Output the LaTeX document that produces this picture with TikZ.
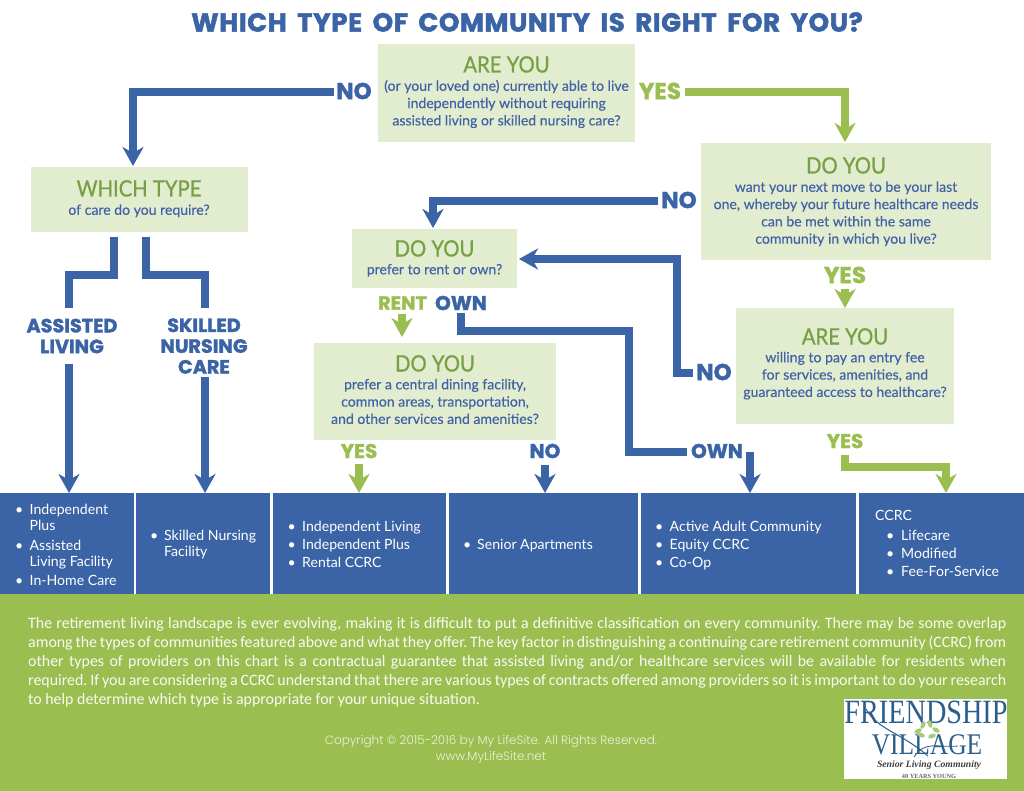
\documentclass[tikz,border=0pt]{standalone}
\usepackage{fontspec}
\usetikzlibrary{arrows.meta,calc}
\setmainfont{Lato}
\newfontfamily\bodyf{Lato}[FakeBold=0.25]
\newfontfamily\headf{Lato}[FakeBold=0.7,FakeStretch=0.9]
\newfontfamily\heavy{Poppins}[BoldFont={Poppins Bold},BoldFeatures={FakeBold=1.6}]
\newfontfamily\titlef{Poppins}[BoldFont={Poppins Bold},BoldFeatures={FakeBold=2,LetterSpace=2.5,WordSpace=1.7}]
\newfontfamily\parf{Carlito}
\newfontfamily\copyf{Poppins Light}
\newfontfamily\logof{Liberation Serif}[FakeStretch=0.83]
\newfontfamily\logov{Liberation Serif}[FakeStretch=0.85]
\newfontfamily\logog{Liberation Serif}
\definecolor{fvblue}{HTML}{3B64A6}
\definecolor{fvgreen}{HTML}{9BBE50}
\definecolor{fvpale}{HTML}{E2ECCF}
\definecolor{fvhead}{HTML}{76A044}
\definecolor{fvtext}{HTML}{4262A6}
\definecolor{fvlogo}{HTML}{2A5F8C}
\definecolor{fvleaf}{HTML}{A6C97C}
\newcommand{\qh}[1]{{\headf\fontsize{22.5}{26}\selectfont\color{fvhead}#1}}
\newcommand{\rowb}[2]{\makebox[#1pt][l]{\textbullet}#2}
\newcommand{\pline}[1]{\hbox to 978pt{\spaceskip=.2em plus 1em minus .05em #1}}
\tikzset{
  x=1pt,y=-1pt,
  qbox/.style={fill=fvpale,draw=none,inner sep=0pt,anchor=north west},
  qtext/.style={anchor=north,align=center,inner sep=0pt,text=fvtext,font=\bodyf\fontsize{14.05}{17.3}\selectfont},
  rbox/.style={fill=fvblue,draw=none,inner sep=0pt,anchor=north west},
  rtext/.style={anchor=north west,align=left,inner sep=0pt,text=white,font=\fontsize{14.1}{16}\selectfont},
  lab/.style={inner sep=0pt,align=center,font=\heavy\bfseries\fontsize{20}{20.8}\selectfont},
  labbig/.style={font=\heavy\bfseries\fontsize{23}{24}\selectfont},
  labmid/.style={font=\heavy\bfseries\fontsize{19.2}{20.8}\selectfont},
  labb/.style={lab,text=fvblue},
  labg/.style={lab,text=fvgreen},
  arr/.style={line width=8pt,line join=miter,-{Stealth[length=19pt,width=21pt,inset=6pt]}},
  lin/.style={line width=8pt,line join=miter},
  barr/.style={arr,draw=fvblue},
  garr/.style={arr,draw=fvgreen},
  blin/.style={lin,draw=fvblue},
}
\begin{document}
\begin{tikzpicture}
\useasboundingbox (0,0) rectangle (1024,791);
\fill[white] (0,0) rectangle (1024,791);
\node[anchor=center,inner sep=0pt,text=fvblue,font=\titlef\bfseries\fontsize{26}{30}\selectfont] (title) at (527,22) {WHICH TYPE OF COMMUNITY IS RIGHT FOR YOU?};

% footer
\node[fill=fvgreen,inner sep=0pt,anchor=north west,minimum width=1024pt,minimum height=197pt] (footer) at (0,594) {};

% question boxes
\node[qbox,minimum width=257pt,minimum height=98pt] (q1) at (378,44) {};
\node[qbox,minimum width=217pt,minimum height=65pt] (q2) at (31,167) {};
\node[qbox,minimum width=290pt,minimum height=117pt] (q3) at (701,143) {};
\node[qbox,minimum width=165pt,minimum height=59pt] (q4) at (352,229) {};
\node[qbox,minimum width=242pt,minimum height=97pt] (q5) at (314,343) {};
\node[qbox,minimum width=218pt,minimum height=116pt] (q6) at (736,308) {};

\node[qtext] (q1t) at (506.5,56) {\qh{ARE YOU}\\[1pt](or your loved one) currently able to live\\independently without requiring\\assisted living or skilled nursing care?};
\node[qtext] (q2t) at (139,180) {\qh{WHICH TYPE}\\[1pt]of care do you require?};
\node[qtext] (q3t) at (846,157) {\qh{DO YOU}\\[1pt]want your next move to be your last\\one, whereby your future healthcare needs\\can be met within the same\\community in which you live?};
\node[qtext] (q4t) at (434.5,240) {\qh{DO YOU}\\[0.5pt]prefer to rent or own?};
\node[qtext] (q5t) at (435,355) {\qh{DO YOU}\\[0.5pt]prefer a central dining facility,\\common areas, transportation,\\and other services and amenities?};
\node[qtext] (q6t) at (845,328) {\qh{ARE YOU}\\[0.5pt]willing to pay an entry fee\\for services, amenities, and\\guaranteed access to healthcare?};

% result boxes
\node[rbox,minimum width=133.5pt,minimum height=101pt] (r1) at (0,493) {};
\node[rbox,minimum width=134pt,minimum height=101pt] (r2) at (136,493) {};
\node[rbox,minimum width=173.5pt,minimum height=101pt] (r3) at (272.5,493) {};
\node[rbox,minimum width=189pt,minimum height=101pt] (r4) at (449,493) {};
\node[rbox,minimum width=215.5pt,minimum height=101pt] (r5) at (640.5,493) {};
\node[rbox,minimum width=165.5pt,minimum height=101pt] (r6) at (858.5,493) {};

\node[rtext] (r1t) at (15,504) {\rowb{14.5}{Independent}\\\hspace*{14.5pt}Plus\\[3.5pt]\rowb{14.5}{Assisted}\\\hspace*{14.5pt}Living Facility\\[3.5pt]\rowb{14.5}{In-Home Care}};
\node[rtext] (r2t) at (150,530) {\rowb{14}{Skilled Nursing}\\\hspace*{14pt}Facility};
\node[rtext] (r3t) at (287.5,521) {\rowb{14.5}{Independent Living}\\[2pt]\rowb{14.5}{Independent Plus}\\[2pt]\rowb{14.5}{Rental CCRC}};
\node[rtext] (r4t) at (463,539.5) {\rowb{14}{Senior Apartments}};
\node[rtext] (r5t) at (655,521) {\rowb{14.5}{Active Adult Community}\\[2pt]\rowb{14.5}{Equity CCRC}\\[2pt]\rowb{14.5}{Co-Op}};
\node[rtext] (r6t) at (875,510.5) {CCRC\\[3.5pt]\hspace*{11pt}\rowb{15}{Lifecare}\\[2pt]\hspace*{11pt}\rowb{15}{Modified}\\[2pt]\hspace*{11pt}\rowb{15}{Fee-For-Service}};

% labels
\node[labb,labbig] (noA) at (354,91) {NO};
\node[labg,labbig] (yesA) at (660,91) {YES};
\node[labb,labbig] (noB) at (679,200) {NO};
\node[labg,labbig] (yesB) at (845,275) {YES};
\node[labg,labmid] (rent) at (402.5,303) {RENT};
\node[labb] (own) at (461,303) {OWN};
\node[labb,labbig] (noC) at (714,372) {NO};
\node[labg] (yesC) at (845,441) {YES};
\node[labb,labmid] (assist) at (72,336) {ASSISTED\\LIVING};
\node[labb,labmid] (skilled) at (204,346) {SKILLED\\NURSING\\CARE};
\node[labg] (yesD) at (359,451) {YES};
\node[labb] (noD) at (545,451) {NO};
\node[labb] (ownB) at (717,451) {OWN};

% connectors
\coordinate (c1) at (133,166);
\draw[barr] ($(noA.west)+(-2.5,1.5)$) -- (133,92.5) -- (c1);
\coordinate (c2) at (845,142);
\draw[garr] ($(yesA.east)+(4,1.5)$) -- (845,92.5) -- (c2);
\coordinate (c3) at (433,228);
\draw[barr] ($(noB.west)+(-3.5,1)$) -- (433,201) -- (c3);
\coordinate (c4) at (845,308);
\draw[garr] (845,289) -- (c4);
\coordinate (c5) at (519,259);
\draw[barr] ($(noC.west)+(-3.5,1)$) -- (677,373) -- (677,259) -- (c5);
\coordinate (c6) at (113.5,237);
\coordinate (c7) at (69,308);
\draw[blin] (c6) -- (113.5,275) -- (69,275) -- (c7);
\coordinate (c8) at (146,237);
\coordinate (c9) at (205,308);
\draw[blin] (c8) -- (146,275) -- (205,275) -- (c9);
\draw[barr] (69,364) -- (r1.north -| 69,0);
\draw[barr] (205,377) -- (r2.north -| 205,0);
\draw[garr] (402,314) -- (402,337);
\draw[blin] (461,313) -- (461,331) -- (629,331) -- (629,452) -- ($(ownB.west)+(-4,1)$);
\draw[barr] (750,452) -- (r5.north -| 750,0);
\draw[garr] (359,464) -- (r3.north -| 359,0);
\draw[barr] (545,465) -- (r4.north -| 545,0);
\draw[garr] (845,455) -- (845,467) -- (946,467) -- (r6.north -| 946,0);

% footer text
\node[anchor=north west,inner sep=0pt,align=left,text=white!93!fvgreen,font=\parf\fontsize{15.9}{19}\selectfont\frenchspacing] (para) at (28,617) {%
\pline{The retirement living landscape is ever evolving, making it is difficult to put a definitive classification on every community. There may be some overlap}\\
\pline{among the types of communities featured above and what they offer. The key factor in distinguishing a continuing care retirement community (CCRC) from}\\
\pline{other types of providers on this chart is a contractual guarantee that assisted living and/or healthcare services will be available for residents when}\\
\pline{required. If you are considering a CCRC understand that there are various types of contracts offered among providers so it is important to do your research}\\
to help determine which type is appropriate for your unique situation.};
\node[anchor=center,inner sep=0pt,align=center,text=white!80!fvgreen,font=\copyf\fontsize{12}{16}\selectfont] (copy) at (491,749.5) {Copyright © 2015-2016 by My LifeSite. All Rights Reserved.\\www.MyLifeSite.net};

% logo
\node[fill=white,inner sep=0pt,anchor=north west,minimum width=163pt,minimum height=80pt] (logo) at (844,699) {};
\node[anchor=center,inner sep=0pt,text=fvlogo,font=\logof\fontsize{34}{34}\selectfont] (fr) at (926,712) {FRIENDSHIP};
\node[anchor=center,inner sep=0pt,text=fvlogo,font=\logov\fontsize{30}{30}\selectfont] (vi) at (927,745) {VILLAGE};
\node[anchor=center,inner sep=0pt,text=black!75,font=\logog\bfseries\itshape\fontsize{9.7}{11}\selectfont] (sl) at (929,765) {Senior Living Community};
\node[anchor=center,inner sep=0pt,text=black!60,font=\logog\bfseries\fontsize{6.3}{7}\selectfont] (yy) at (929,776) {40 YEARS YOUNG};
\draw[fvlogo,line width=1pt] (866,709) .. controls (878,730) and (900,732) .. (928,756);
\draw[fvlogo,line width=.8pt] (914,757) .. controls (925,740) and (938,748) .. (958,746);
\foreach \a/\b/\r in {918/731/25,923/725/65,930/724/110,936/730/150,921/735/-20,932/736/20}{\fill[fvleaf,rotate around={\r:(\a,\b)}] (\a,\b) ellipse (4 and 2.2);}
\end{tikzpicture}
\end{document}
